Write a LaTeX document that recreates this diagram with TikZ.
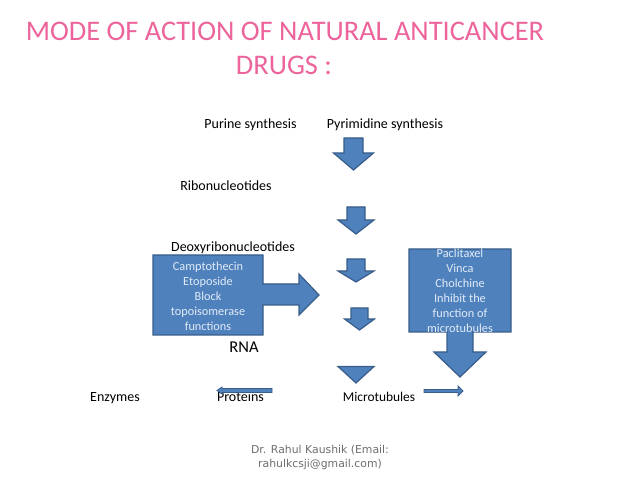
\documentclass[tikz,border=0pt]{standalone}
\usepackage{fontspec}
\setmainfont{Carlito}
\newfontfamily\footfont{DejaVu Sans}

\definecolor{titlepink}{RGB}{236,100,155}
\definecolor{shapeblue}{RGB}{79,129,189}
\definecolor{shapeedge}{RGB}{56,93,138}
\definecolor{boxtext}{RGB}{225,235,247}
\definecolor{footgray}{RGB}{110,110,110}

\tikzset{
  title/.style={text=titlepink,font=\fontsize{28.4}{34}\selectfont,anchor=center,inner sep=0pt},
  label/.style={font=\fontsize{14}{16}\selectfont,text=black,anchor=base,inner sep=0pt},
  drugtext/.style={text=boxtext,align=center,font=\fontsize{12.3}{15}\selectfont,inner sep=0pt,anchor=north},
  blockarrow/.style={draw=shapeedge,fill=shapeblue,line width=1.2pt,line join=miter},
  foot/.style={text=footgray,align=center,font=\footfont\fontsize{10.85}{14}\selectfont,inner sep=0pt}
}

\begin{document}
\begin{tikzpicture}[x=1pt,y=-1pt]
\useasboundingbox (0,0) rectangle (638,478);

% Title
\node[title] (titleone) at (285,31) {MODE OF ACTION OF NATURAL ANTICANCER};
\node[title] (titletwo) at (284,65) {DRUGS :};

% Pathway labels
\node[label] (purine) at (250.5,129) {Purine synthesis};
\node[label] (pyrimidine) at (385,129) {Pyrimidine synthesis};
\node[label] (ribo) at (226,191) {Ribonucleotides};
\node[label] (deoxy) at (233,252) {Deoxyribonucleotides};
\node[label,font=\fontsize{16.5}{20}\selectfont] (rna) at (244,353) {RNA};
\node[label] (enzymes) at (115,401.5) {Enzymes};
\node[label] (proteins) at (240.5,401.5) {Proteins};
\node[label,font=\fontsize{13.4}{16}\selectfont] (microtubules) at (379,401.5) {Microtubules};

% Down arrows: centre, half shaft, half head, top, shoulder, tip
\foreach \cx/\hs/\hh/\ytop/\ywing/\ytip in {
  353.5/9.5/20/138/153/170,
  356/9/18/207/220/234,
  356/9/18/259/271/282,
  359.5/8.5/15/308/319/330} {
  \draw[blockarrow] (\cx-\hs,\ytop) -- (\cx+\hs,\ytop) -- (\cx+\hs,\ywing) -- (\cx+\hh,\ywing)
    -- (\cx,\ytip) -- (\cx-\hh,\ywing) -- (\cx-\hs,\ywing) -- cycle;
}

% Flat head without shaft
\draw[blockarrow] (338,366.5) -- (374,366.5) -- (356,383) -- cycle;

% Boxes, each one shape with its arrow
\draw[blockarrow] (153,255) -- (263,255) -- (263,284) -- (299,284) -- (299,274) -- (319,295)
  -- (299,315) -- (299,305) -- (263,305) -- (263,335) -- (153,335) -- cycle;
\draw[blockarrow] (409,249) -- (511,249) -- (511,332) -- (473,332) -- (473,352) -- (486,352)
  -- (460,377) -- (434,352) -- (447,352) -- (447,332) -- (409,332) -- cycle;
\node[drugtext] (lefttext) at (208,262)
  {Camptothecin\\Etoposide\\Block\\topoisomerase\\functions};
\node[drugtext] (righttext) at (460,248.5)
  {Paclitaxel\\Vinca\\Cholchine\\Inhibit the\\function of\\microtubules};

% Thin arrows
\draw[blockarrow,line width=0.8pt] (272,388.5) -- (222,388.5) -- (222,387) -- (217,390.5) -- (222,394) -- (222,392.5) -- (272,392.5) -- cycle;
\draw[blockarrow,line width=0.8pt] (424,389.5) -- (458,389.5) -- (458,386) -- (463,391) -- (458,396) -- (458,392.5) -- (424,392.5) -- cycle;

% Footer
\node[foot] (credit) at (320,458) {Dr. Rahul Kaushik (Email:\\rahulkcsji@gmail.com)};
\end{tikzpicture}
\end{document}
